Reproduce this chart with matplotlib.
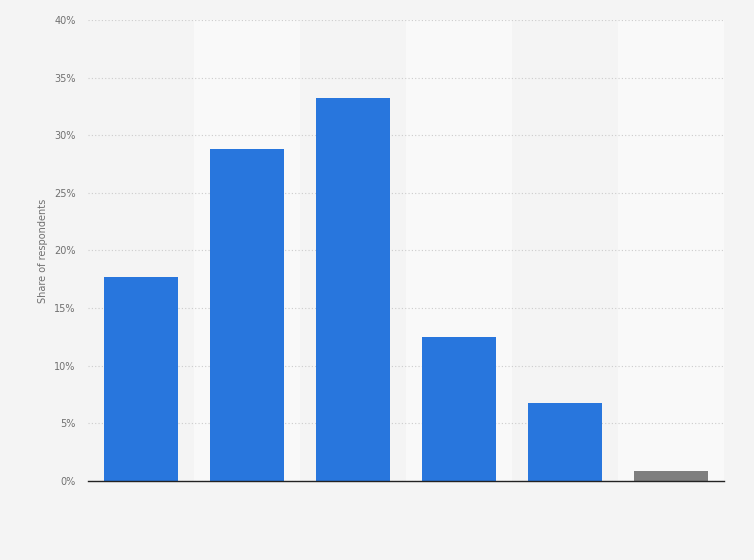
import matplotlib.pyplot as plt
import numpy as np

# data (no category labels shown)
categories = ['1', '2', '3', '4', '5', '6']
shares = [17.7, 28.8, 33.2, 12.5, 6.8, 0.9]
bar_colors = ['#2876dd', '#2876dd', '#2876dd', '#2876dd', '#2876dd', '#7f7f7f']
y_ticks = [0, 5, 10, 15, 20, 25, 30, 35, 40]

fig = plt.figure(figsize=(7.54, 5.60), dpi=100, facecolor='#f4f4f4')
ax = fig.add_axes([0.1167, 0.1411, 0.8435, 0.8232])
ax.set_facecolor('#f4f4f4')

x = np.arange(len(categories))
# alternating column stripes
for i in x:
    if i % 2 == 1:
        ax.axvspan(i - 0.5, i + 0.5, color='#f9f9f9', zorder=0, lw=0)

ax.bar(x, shares, width=0.69, color=bar_colors, zorder=3)

ax.set_xlim(-0.5, len(categories) - 0.5)
ax.set_ylim(0, 40)
ax.set_yticks(y_ticks)
ax.set_yticklabels([f'{t}%' for t in y_ticks])
ax.set_xticks([])
ax.grid(axis='y', color='#cccccc', linestyle=(0, (1, 2)), linewidth=0.8, zorder=1)

for s in ['top', 'right', 'left']:
    ax.spines[s].set_visible(False)
ax.spines['bottom'].set_color('#222222')
ax.spines['bottom'].set_linewidth(1.0)
ax.spines['bottom'].set_zorder(4)

ax.tick_params(axis='y', length=0, labelsize=7, labelcolor='#707070', pad=9)
ax.set_ylabel('Share of respondents', fontsize=7, color='#707070', labelpad=4)

plt.savefig('out.png', dpi=100, facecolor=fig.get_facecolor())
